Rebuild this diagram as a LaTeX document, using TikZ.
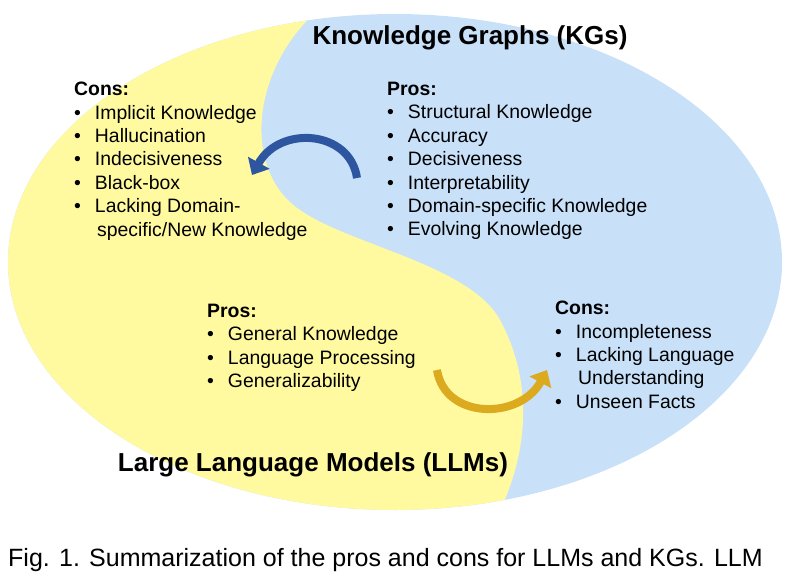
\documentclass[tikz,border=0pt]{standalone}
\usepackage{fontspec}
\setmainfont{Liberation Sans}
\usetikzlibrary{arrows.meta,positioning}
\definecolor{llmyellow}{RGB}{255,250,160}
\definecolor{kgblue}{RGB}{200,224,248}
\definecolor{arrowblue}{RGB}{45,85,160}
\definecolor{arrowgold}{RGB}{220,170,30}
\tikzset{
  listbox/.style={anchor=north west, inner sep=0pt, align=left, font=\fontsize{19.4}{23.4}\selectfont},
  titlebox/.style={font=\fontsize{26}{28}\selectfont\bfseries},
}
\newcommand{\itm}[1]{\textbullet\hspace{14pt}#1}
\begin{document}
\begin{tikzpicture}[x=1pt, y=-1pt]
\useasboundingbox (0,0) rectangle (800,581);
% background halves
\begin{scope}
\clip (395,262) ellipse [x radius=387, y radius=248];
\fill[kgblue] (0,0) rectangle (800,530);
\fill[llmyellow] (330,0) .. controls (250,60) and (240,170) .. (300,210)
  .. controls (350,245) and (470,265) .. (500,320)
  .. controls (530,375) and (535,450) .. (490,530) -- (0,530) -- (0,0) -- cycle;
\end{scope}
% titles
\node[titlebox] (kgtitle) at (470,38) {Knowledge Graphs (KGs)};
\node[titlebox] (llmtitle) at (313,465) {Large Language Models (LLMs)};
% LLM cons
\node[listbox] (llmcons) at (74,82) {\textbf{Cons:}\\
\itm{Implicit Knowledge}\\ \itm{Hallucination}\\ \itm{Indecisiveness}\\ \itm{Black-box}\\
\itm{Lacking Domain-}\\ \hspace{23pt}specific/New Knowledge};
% KG pros
\node[listbox] (kgpros) at (387,82) {\textbf{Pros:}\\
\itm{Structural Knowledge}\\ \itm{Accuracy}\\ \itm{Decisiveness}\\ \itm{Interpretability}\\
\itm{Domain-specific Knowledge}\\ \itm{Evolving Knowledge}};
% LLM pros
\node[listbox] (llmpros) at (207,304) {\textbf{Pros:}\\
\itm{General Knowledge}\\ \itm{Language Processing}\\ \itm{Generalizability}};
% KG cons
\node[listbox] (kgcons) at (555,301) {\textbf{Cons:}\\
\itm{Incompleteness}\\ \itm{Lacking Language}\\ \hspace{23pt}Understanding\\ \itm{Unseen Facts}};
% arrows
\coordinate (bluestart) at (357,178);
\coordinate (blueend) at (252,175);
\draw[arrowblue, line width=8pt, -{Triangle[length=14pt,width=24pt]}]
  (bluestart) .. controls (350,130) and (280,125) .. (blueend);
\coordinate (goldstart) at (437,370);
\coordinate (goldend) at (547,370);
\draw[arrowgold, line width=8pt, -{Triangle[length=14pt,width=24pt]}]
  (goldstart) .. controls (445,420) and (520,420) .. (goldend);
% caption
\node[anchor=base west, inner sep=0pt, font=\fontsize{25}{28}\selectfont] (caption) at (8,566)
  {Fig. 1. Summarization of the pros and cons for LLMs and KGs. LLM};
\end{tikzpicture}
\end{document}
